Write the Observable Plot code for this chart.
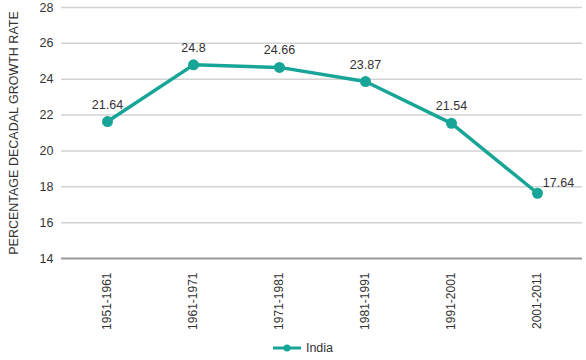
<!DOCTYPE html>
<html>
<head>
<meta charset="utf-8">
<script src="https://cdn.jsdelivr.net/npm/d3@7"></script>
<script src="https://cdn.jsdelivr.net/npm/@observablehq/plot@0.6"></script>
<style>
  body { margin: 0; background: #fff; font-family: "Liberation Sans", Arial, sans-serif; }
  #legend { height: 24px; display: flex; justify-content: center; align-items: center; font-size: 12.5px; color: #333; padding-left: 20px; }
  #legend svg { margin-right: 5px; }
</style>
</head>
<body>
<div id="chart"></div>
<div id="legend"></div>
<script>
const periods = ["1951-1961", "1961-1971", "1971-1981", "1981-1991", "1991-2001", "2001-2011"];
const rates = [21.64, 24.8, 24.66, 23.87, 21.54, 17.64];
const yTicks = [14, 16, 18, 20, 22, 24, 26, 28];
const seriesName = "India";
const color = "#17a597";

const data = periods.map((p, i) => ({period: p, rate: rates[i]}));
const lastIdx = data.length - 1;

const chart = Plot.plot({
  width: 586,
  height: 336,
  marginTop: 7,
  marginBottom: 78,
  marginLeft: 61,
  marginRight: 4,
  style: {fontFamily: "'Liberation Sans', Arial, sans-serif", fontSize: "12px", color: "#333", background: "#fff"},
  x: {type: "band", domain: periods, padding: 0},
  y: {domain: [14, 28]},
  marks: [
    Plot.ruleY(yTicks.filter(t => t > 14), {stroke: "#d2d2d2", strokeWidth: 1.5}),
    Plot.axisY({ticks: yTicks, tickSize: 0, tickPadding: 8, fontSize: 12.5, line: true, stroke: "#b0b0b0",
      label: "PERCENTAGE DECADAL GROWTH RATE", labelAnchor: "center", labelOffset: 52, labelArrow: false}),
    Plot.ruleY([14], {stroke: "#999", strokeWidth: 2}),
    Plot.axisX({tickSize: 0, tickPadding: 14, tickRotate: -90, fontSize: 12, label: null}),
    Plot.line(data, {x: "period", y: "rate", stroke: color, strokeWidth: 3.5}),
    Plot.dot(data, {x: "period", y: "rate", fill: color, r: 5.5}),
    Plot.text(data.filter((d, i) => i !== lastIdx), {x: "period", y: "rate", text: d => String(d.rate), dy: -17, fontSize: 12.5, fill: "#333"}),
    Plot.text(data.filter((d, i) => i === lastIdx), {x: "period", y: "rate", text: d => String(d.rate), dx: 21, dy: -10, fontSize: 12.5, fill: "#333"})
  ]
});
document.getElementById("chart").append(chart);

const legend = document.getElementById("legend");
legend.innerHTML = `<svg width="28" height="10"><line x1="0" y1="5" x2="28" y2="5" stroke="${color}" stroke-width="3"/><circle cx="14" cy="5" r="3.5" fill="${color}"/></svg><span>${seriesName}</span>`;
</script>
</body>
</html>
